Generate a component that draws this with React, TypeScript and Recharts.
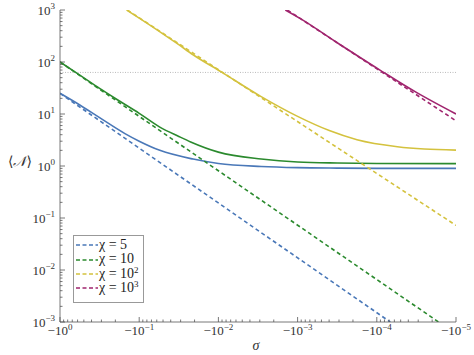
import React from 'react';
import { LineChart, Line, XAxis, YAxis, ReferenceLine, Legend, Label } from 'recharts';

// x positions are given as exponents e, with sigma = -10^e
const xTickExponents = [0, -1, -2, -3, -4, -5];
const yTickExponents = [-3, -2, -1, 0, 1, 2, 3];
const minorMultipliers = [2, 3, 4, 5, 6, 7, 8, 9];

const chiBase = ['5', '10', '10', '10'];
const chiExp = ['', '', '2', '3'];

// chi = 5
const blueSolidExp = [0, -0.25, -0.5, -0.82, -1, -1.26, -1.68, -2, -2.54, -3, -3.5, -4, -4.5, -5];
const blueSolidN = [25, 14.9, 8.5, 4.2, 3.0, 2.0, 1.36, 1.12, 0.98, 0.93, 0.91, 0.9, 0.9, 0.9];
const blueDashedExp = [0, -4.17];
const blueDashedN = [25, 0.001];

// chi = 10
const greenSolidExp = [0, -0.25, -0.5, -0.75, -1, -1.26, -1.5, -1.65, -2, -2.54, -3, -3.5, -4, -5];
const greenSolidN = [100, 56, 31, 17.8, 10.3, 5.6, 3.7, 2.9, 1.85, 1.36, 1.19, 1.14, 1.12, 1.11];
const greenDashedExp = [0, -4.78];
const greenDashedN = [100, 0.001];

// chi = 10^2
const yellowSolidExp = [-0.84, -1, -1.5, -1.68, -2.04, -2.54, -3, -3.4, -3.75, -4.26, -4.6, -5];
const yellowSolidN = [1000, 700, 215, 138, 64, 21.6, 9.0, 4.8, 3.2, 2.35, 2.12, 2.02];
const yellowDashedExp = [-0.85, -5];
const yellowDashedN = [1000, 0.072];

// chi = 10^3
const magentaSolidExp = [-2.845, -3.03, -3.5, -4.04, -4.5, -5];
const magentaSolidN = [1000, 690, 235, 70, 26, 10];
const magentaDashedExp = [-2.87, -5];
const magentaDashedN = [1000, 7.4];

const thresholdN = 63;

const COLORS = ['#4a78b8', '#2b8a2e', '#d4c23e', '#a0256e'];
const FONT = '"Liberation Serif", "DejaVu Serif", serif';
const PLOT_LEFT = 60;
const PLOT_BOTTOM = 322;
const AXIS_COLOR = '#555';
const TEXT_COLOR = '#333';

const toTable = (exps: number[], vals: number[]) =>
  exps.map((e, i) => ({ t: -e, v: Math.log10(vals[i]) }));

const xTicks: number[] = [];
xTickExponents.forEach((e) => xTicks.push(-e));
for (let k = -1; k >= -5; k--) {
  minorMultipliers.forEach((m) => xTicks.push(-(k + Math.log10(m))));
}
const yTicks: number[] = [];
yTickExponents.forEach((e) => yTicks.push(e));
for (let k = -3; k <= 2; k++) {
  minorMultipliers.forEach((m) => yTicks.push(k + Math.log10(m)));
}

const isMajor = (v: number) => Math.abs(v - Math.round(v)) < 1e-6;
const fmtExp = (n: number) => (n < 0 ? '\u2212' + Math.abs(n) : String(n));

const XTick = (props: any) => {
  const { x, payload } = props;
  const v = payload.value;
  const major = isMajor(v);
  return (
    <g>
      <line x1={x} x2={x} y1={PLOT_BOTTOM} y2={PLOT_BOTTOM - (major ? 5 : 2.5)} stroke={AXIS_COLOR} strokeWidth={0.8} />
      {major && (
        <text x={x} y={PLOT_BOTTOM + 13} textAnchor="middle" fontFamily={FONT} fontSize={13} fill={TEXT_COLOR}>
          {'\u221210'}
          <tspan dy={-5} fontSize={9}>{fmtExp(-Math.round(v))}</tspan>
        </text>
      )}
    </g>
  );
};

const YTick = (props: any) => {
  const { y, payload } = props;
  const v = payload.value;
  const major = isMajor(v);
  return (
    <g>
      <line x1={PLOT_LEFT} x2={PLOT_LEFT + (major ? 5 : 2.5)} y1={y} y2={y} stroke={AXIS_COLOR} strokeWidth={0.8} />
      {major && (
        <text x={55} y={y + 5} textAnchor="end" fontFamily={FONT} fontSize={13} fill={TEXT_COLOR}>
          10
          <tspan dy={-6} fontSize={9}>{fmtExp(Math.round(v))}</tspan>
        </text>
      )}
    </g>
  );
};

const series = [
  { solid: toTable(blueSolidExp, blueSolidN), dashed: toTable(blueDashedExp, blueDashedN) },
  { solid: toTable(greenSolidExp, greenSolidN), dashed: toTable(greenDashedExp, greenDashedN) },
  { solid: toTable(yellowSolidExp, yellowSolidN), dashed: toTable(yellowDashedExp, yellowDashedN) },
  { solid: toTable(magentaSolidExp, magentaSolidN), dashed: toTable(magentaDashedExp, magentaDashedN) },
];

const LegendBox = () => (
  <div
    style={{
      border: '1px solid #999',
      background: '#fff',
      padding: '2px 4px 6px 2px',
      fontFamily: FONT,
      fontSize: 14,
      color: '#222',
      lineHeight: '14.4px',
    }}
  >
    {chiBase.map((b, i) => (
      <div key={i} style={{ display: 'flex', alignItems: 'center', whiteSpace: 'nowrap' }}>
        <svg width={22} height={10} style={{ marginRight: 1 }}>
          <line x1={0} x2={22} y1={5} y2={5} stroke={COLORS[i]} strokeWidth={1.5} strokeDasharray="4 2.5" />
        </svg>
        <span>
          {'\u03c7 = '}
          {b}
          {chiExp[i] && <sup style={{ fontSize: 9, verticalAlign: 'top', lineHeight: '9px', position: 'relative', top: -1 }}>{chiExp[i]}</sup>}
        </span>
      </div>
    ))}
  </div>
);

export default function App() {
  return (
    <div style={{ position: 'absolute', left: 0, top: 0, width: 474, height: 355, background: '#fff' }}>
      <LineChart width={474} height={355} margin={{ top: 10, right: 18, left: 0, bottom: 0 }}>
        <XAxis
          type="number"
          dataKey="t"
          domain={[0, 5]}
          ticks={xTicks}
          interval={0}
          tick={<XTick />}
          tickLine={false}
          axisLine={{ stroke: AXIS_COLOR, strokeWidth: 0.8 }}
          height={33}
          allowDataOverflow
        >
          <Label
            content={() => (
              <text x={256} y={350} textAnchor="middle" fontFamily={FONT} fontStyle="italic" fontSize={14} fill={TEXT_COLOR}>
                σ
              </text>
            )}
          />
        </XAxis>
        <YAxis
          type="number"
          dataKey="v"
          domain={[-3, 3]}
          ticks={yTicks}
          interval={0}
          tick={<YTick />}
          tickLine={false}
          axisLine={{ stroke: AXIS_COLOR, strokeWidth: 0.8 }}
          width={60}
          allowDataOverflow
        >
          <Label
            content={() => (
              <text x={8} y={166} fontFamily={FONT} fontSize={14} fill={TEXT_COLOR}>
                {'\u27e8'}
                <tspan fontStyle="italic">{'\ud835\udca9'}</tspan>
                {'\u27e9'}
              </text>
            )}
          />
        </YAxis>
        <ReferenceLine y={Math.log10(thresholdN)} stroke="#bbb" strokeDasharray="1 1.5" strokeWidth={1} />
        {series.map((s, i) => (
          <Line
            key={'s' + i}
            data={s.solid}
            dataKey="v"
            type="monotone"
            stroke={COLORS[i]}
            strokeWidth={1.6}
            dot={false}
            activeDot={false}
            isAnimationActive={false}
            legendType="none"
          />
        ))}
        {series.map((s, i) => (
          <Line
            key={'d' + i}
            data={s.dashed}
            dataKey="v"
            type="linear"
            stroke={COLORS[i]}
            strokeWidth={1.6}
            strokeDasharray="4 3"
            dot={false}
            activeDot={false}
            isAnimationActive={false}
            legendType="none"
          />
        ))}
        <Legend
          layout="vertical"
          align="center"
          verticalAlign="middle"
          content={() => <LegendBox />}
          wrapperStyle={{ position: 'absolute', left: 73, top: 235, width: 'auto', height: 'auto' }}
        />
      </LineChart>
    </div>
  );
}
